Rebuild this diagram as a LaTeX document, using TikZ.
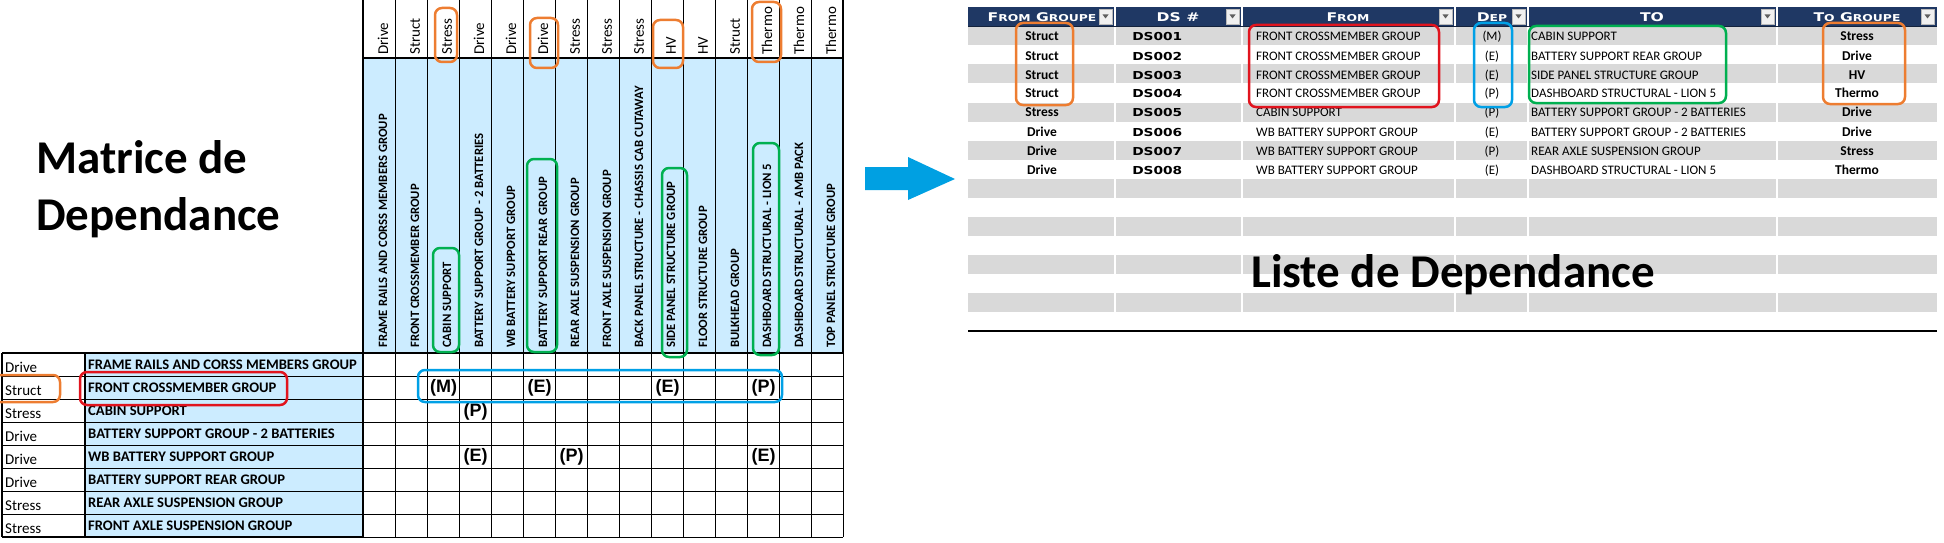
\documentclass[tikz,border=0pt]{standalone}
\usepackage{fontspec}
\setmainfont{Carlito}
\newfontfamily\hdfont{DejaVu Sans}
\newfontfamily\arialfont{Liberation Sans}
\newcommand\myhsc[2]{{\fontsize{12}{12}\selectfont #1}{\fontsize{9.5}{9.5}\selectfont #2}}
\definecolor{lblue}{RGB}{204,236,255}
\definecolor{navy}{RGB}{31,56,100}
\definecolor{lgray}{RGB}{217,217,217}
\definecolor{hlorange}{RGB}{237,125,49}
\definecolor{hlgreen}{RGB}{0,176,80}
\definecolor{hlred}{RGB}{225,20,30}
\definecolor{hlblue}{RGB}{0,160,230}
\definecolor{arrowblue}{RGB}{0,160,226}
\tikzset{
  grp/.style={rotate=90,anchor=west,inner sep=0pt,font=\fontsize{15}{15}\selectfont},
  cname/.style={rotate=90,anchor=west,inner sep=0pt,font=\bfseries\fontsize{12.7}{12.7}\selectfont},
  lgrp/.style={anchor=base west,inner sep=0pt,font=\fontsize{15}{15}\selectfont},
  lname/.style={anchor=base west,inner sep=0pt,font=\bfseries\fontsize{14.6}{14.6}\selectfont},
  ent/.style={inner sep=0pt,font=\arialfont\bfseries\fontsize{18}{18}\selectfont},
  title/.style={anchor=base west,inner sep=0pt,font=\bfseries\fontsize{47}{57}\selectfont},
  hdr/.style={anchor=base,inner sep=0pt,text=white,xscale=1.3,font=\hdfont\bfseries\fontsize{12}{12}\selectfont},
  rb/.style={anchor=base,inner sep=0pt,font=\bfseries\fontsize{13.5}{13.5}\selectfont},
  rr/.style={anchor=base west,inner sep=0pt,font=\fontsize{13}{13}\selectfont},
  rc/.style={anchor=base,inner sep=0pt,font=\fontsize{13}{13}\selectfont},
  dsf/.style={anchor=base west,inner sep=0pt,xscale=1.25,font=\hdfont\bfseries\fontsize{11}{11}\selectfont},
  hl/.style={rounded corners=7pt,line width=2.5pt},
  thinl/.style={line width=1pt},
  thickl/.style={line width=2pt},
}
\begin{document}
\begin{tikzpicture}[x=1pt,y=-1pt]
\useasboundingbox (0,0) rectangle (1944,543);
% ---------- left matrix ----------
\fill[lblue] (363,58) rectangle (843,353);
\fill[lblue] (85,353) rectangle (363,537);
\foreach \i in {1,...,14} \draw[thinl] ({363+32*\i},0) -- ({363+32*\i},537);
\draw[thickl] (363,0) -- (363,537);
\draw[thickl] (843,0) -- (843,353);
\draw[thinl] (843,353) -- (843,537);
\draw[thickl] (363,58) -- (843,58);
\draw[thickl] (2,353) -- (843,353);
\foreach \j in {1,...,7} \draw[thinl] (2,{353+23*\j}) -- (843,{353+23*\j});
\draw[thickl] (2,537) -- (363,537);
\draw[thinl] (363,537) -- (843,537);
\draw[thickl] (2,353) -- (2,537);
\draw[thickl] (85,353) -- (85,537);
% column headers
\foreach \g [count=\i] in {Drive,Struct,Stress,Drive,Drive,Drive,Stress,Stress,Stress,HV,HV,Struct,Thermo,Thermo,Thermo}
  \node[grp] (g\i) at ({363+32*\i-12},55) {\g};
\foreach \n [count=\i] in {FRAME RAILS AND CORSS MEMBERS GROUP,FRONT CROSSMEMBER GROUP,CABIN SUPPORT,BATTERY SUPPORT GROUP - 2 BATTERIES,WB BATTERY SUPPORT GROUP,BATTERY SUPPORT REAR GROUP,REAR AXLE SUSPENSION GROUP,FRONT AXLE SUSPENSION GROUP,BACK PANEL STRUCTURE - CHASSIS CAB CUTAWAY,SIDE PANEL STRUCTURE GROUP,FLOOR STRUCTURE GROUP,BULKHEAD GROUP,DASHBOARD STRUCTURAL - LION 5,DASHBOARD STRUCTURAL - AMB PACK,TOP PANEL STRUCTURE GROUP}
  \node[cname] (c\i) at ({363+32*\i-12},348) {\n};
% row headers
\foreach \g/\n [count=\j] in {Drive/FRAME RAILS AND CORSS MEMBERS GROUP,Struct/FRONT CROSSMEMBER GROUP,Stress/CABIN SUPPORT,Drive/BATTERY SUPPORT GROUP - 2 BATTERIES,Drive/WB BATTERY SUPPORT GROUP,Drive/BATTERY SUPPORT REAR GROUP,Stress/REAR AXLE SUSPENSION GROUP,Stress/FRONT AXLE SUSPENSION GROUP}{
  \node[lgrp] (rg\j) at (5,{353+23*\j-4}) {\g};
  \node[lname] (rn\j) at (88,{353+23*\j-6.5}) {\n};
}
% entries
\node[ent] (e23) at (443.5,387.5) {(M)};
\node[ent] (e26) at (539.5,387.5) {(E)};
\node[ent] (e210) at (667.5,387.5) {(E)};
\node[ent] (e213) at (763.5,387.5) {(P)};
\node[ent] (e34) at (475.5,412) {(P)};
\node[ent] (e54) at (475.5,456.5) {(E)};
\node[ent] (e57) at (571.5,456.5) {(P)};
\node[ent] (e513) at (763.5,456.5) {(E)};
% titles
\node[title] (tm1) at (36,173) {Matrice de};
\node[title] (tm2) at (36,230) {Dependance};
% highlights left
\draw[hl,hlorange] (435,8) rectangle (457,62);
\draw[hl,hlorange] (530,18) rectangle (558,68);
\draw[hl,hlorange] (653,20) rectangle (683,68);
\draw[hl,hlorange] (752,2) rectangle (781,62);
\draw[hl,hlgreen] (433,248) rectangle (459,352);
\draw[hl,hlgreen] (527,159) rectangle (557,352);
\draw[hl,hlgreen] (662,168) rectangle (687,357);
\draw[hl,hlgreen] (753,143) rectangle (779,355);
\draw[hl,hlorange] (-12,375) rectangle (60,402);
\draw[hl,hlred] (80,372) rectangle (287,405);
\draw[hl,hlblue] (418,370) rectangle (782,402);
% ---------- arrow ----------
\fill[arrowblue] (865,167) -- (908,167) -- (908,157) -- (955,179) -- (908,200) -- (908,190) -- (865,190) -- cycle;
% ---------- right table ----------
\foreach \k in {1,3,...,15} \fill[lgray] (968,{26.5+19*(\k-1)}) rectangle (1937,{26.5+19*\k});
\fill[navy] (968,7) rectangle (1937,26.5);
\foreach \x in {1115,1242,1455,1528,1777} \draw[white,line width=2pt] (\x,7) -- (\x,330);
\draw[line width=1pt,navy!60!black] (968,26.5) -- (1937,26.5);
\draw[line width=2pt] (968,331) -- (1937,331);
\foreach \x in {1115,1242,1455,1528,1777,1937}{
  \draw[fill=gray!12,draw=gray!55,line width=0.6pt] ({\x-16},9) rectangle ({\x-3},24);
  \fill[gray!75!black] ({\x-12.5},14.5) -- ({\x-6.5},14.5) -- ({\x-9.5},18.5) -- cycle;
}
\node[hdr] (h1) at (1042,21.5) {\myhsc{F}{ROM} \myhsc{G}{ROUPE}};
\node[hdr] (h2) at (1178,21.5) {DS \#};
\node[hdr] (h3) at (1348,21.5) {\myhsc{F}{ROM}};
\node[hdr] (h4) at (1492,21.5) {\myhsc{D}{EP}};
\node[hdr] (h5) at (1652,21.5) {TO};
\node[hdr] (h6) at (1857,21.5) {\myhsc{T}{O} \myhsc{G}{ROUPE}};
\foreach \a/\b/\c/\d/\e/\f [count=\k] in {
  Struct/DS001/FRONT CROSSMEMBER GROUP/{(M)}/CABIN SUPPORT/Stress,
  Struct/DS002/FRONT CROSSMEMBER GROUP/{(E)}/BATTERY SUPPORT REAR GROUP/Drive,
  Struct/DS003/FRONT CROSSMEMBER GROUP/{(E)}/SIDE PANEL STRUCTURE GROUP/HV,
  Struct/DS004/FRONT CROSSMEMBER GROUP/{(P)}/DASHBOARD STRUCTURAL - LION 5/Thermo,
  Stress/DS005/CABIN SUPPORT/{(P)}/BATTERY SUPPORT GROUP - 2 BATTERIES/Drive,
  Drive/DS006/WB BATTERY SUPPORT GROUP/{(E)}/BATTERY SUPPORT GROUP - 2 BATTERIES/Drive,
  Drive/DS007/WB BATTERY SUPPORT GROUP/{(P)}/REAR AXLE SUSPENSION GROUP/Stress,
  Drive/DS008/WB BATTERY SUPPORT GROUP/{(E)}/DASHBOARD STRUCTURAL - LION 5/Thermo}{
  \pgfmathsetmacro\yb{17+19*\k+5}
  \node[rb] (fg\k) at (1042,\yb) {\a};
  \node[dsf] (ds\k) at (1132,\yb) {\b};
  \node[rr] (fr\k) at (1256,\yb) {\c};
  \node[rc] (dp\k) at (1492,\yb) {\d};
  \node[rr] (to\k) at (1531,\yb) {\e};
  \node[rb] (tg\k) at (1857,\yb) {\f};
}
\node[anchor=base,inner sep=0pt,font=\bfseries\fontsize{47}{57}\selectfont] (tl) at (1453,287) {Liste de Dependance};
% highlights right
\draw[hl,hlorange] (1016,23) rectangle (1073,105);
\draw[hl,hlred] (1249,25) rectangle (1439,107);
\draw[hl,hlblue] (1474,23) rectangle (1512,107);
\draw[hl,hlgreen] (1529,26) rectangle (1726,103);
\draw[hl,hlorange] (1823,23) rectangle (1905,104);
\end{tikzpicture}
\end{document}
